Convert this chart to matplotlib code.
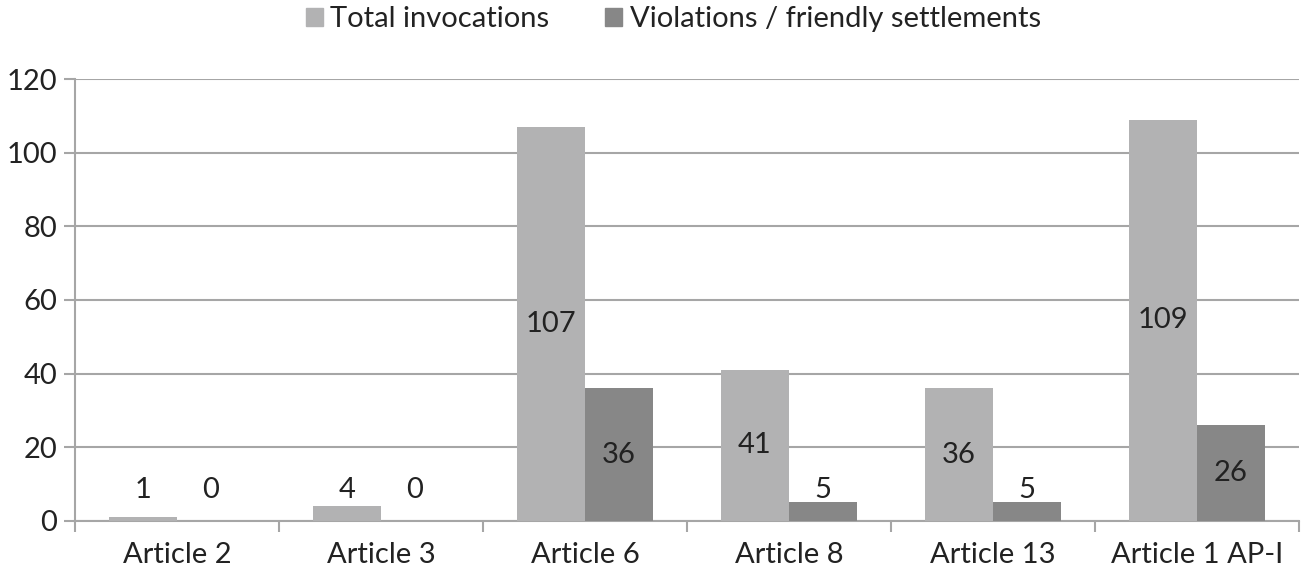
import matplotlib.pyplot as plt
import numpy as np
from matplotlib.patches import Patch

categories = ["Article 2", "Article 3", "Article 6", "Article 8", "Article 13", "Article 1 AP-I"]
total_invocations = [1, 4, 107, 41, 36, 109]
violations = [0, 0, 36, 5, 5, 26]
series_names = ["Total invocations", "Violations / friendly settlements"]

LIGHT = "#b2b2b3"
DARK = "#878787"
GRID = "#a6a6a6"
TEXT = "#222222"
FS = 21

plt.rcParams["font.family"] = ["Lato", "DejaVu Sans"]

fig = plt.figure(figsize=(13.02, 5.73), dpi=100)
ax = fig.add_axes([0.0576, 0.091, 0.9401, 0.771])

x = np.arange(len(categories))
width = 1 / 3
bars1 = ax.bar(x - width / 2, total_invocations, width, color=LIGHT, zorder=3)
bars2 = ax.bar(x + width / 2, violations, width, color=DARK, zorder=3)

# labels: centred in bar, or just above the axis when the bar is too short
for bars, vals in [(bars1, total_invocations), (bars2, violations)]:
    for b, v in zip(bars, vals):
        ypos = max(v / 2, 8.4)
        ax.text(b.get_x() + b.get_width() / 2, ypos, str(v), ha="center", va="center",
                fontsize=FS, color=TEXT, zorder=4)

ax.set_xlim(-0.5, len(categories) - 0.5)
ax.set_ylim(0, 120)
ax.set_yticks(range(0, 121, 20))
ax.yaxis.grid(True, color=GRID, linewidth=1.5, zorder=0)
ax.tick_params(axis="y", length=8, width=1.5, color=GRID, labelsize=FS, labelcolor=TEXT, pad=5)

ax.set_xticks(x)
ax.set_xticklabels(categories)
ax.tick_params(axis="x", length=0, labelsize=FS, labelcolor=TEXT, pad=15)
ax.set_xticks(np.arange(-0.5, len(categories), 1), minor=True)
ax.tick_params(axis="x", which="minor", length=8, width=1.5, color=GRID)

for side in ["top", "right"]:
    ax.spines[side].set_visible(False)
for side in ["left", "bottom"]:
    ax.spines[side].set_color(GRID)
    ax.spines[side].set_linewidth(1.5)

handles = [Patch(color=LIGHT), Patch(color=DARK)]
fig.legend(handles, series_names, loc="upper center", bbox_to_anchor=(0.517, 1.035), ncol=2,
           frameon=False, fontsize=FS, handlelength=0.6, handleheight=0.6,
           handletextpad=0.25, columnspacing=1.9, labelcolor=TEXT)

fig.savefig("out.png", dpi=100)
